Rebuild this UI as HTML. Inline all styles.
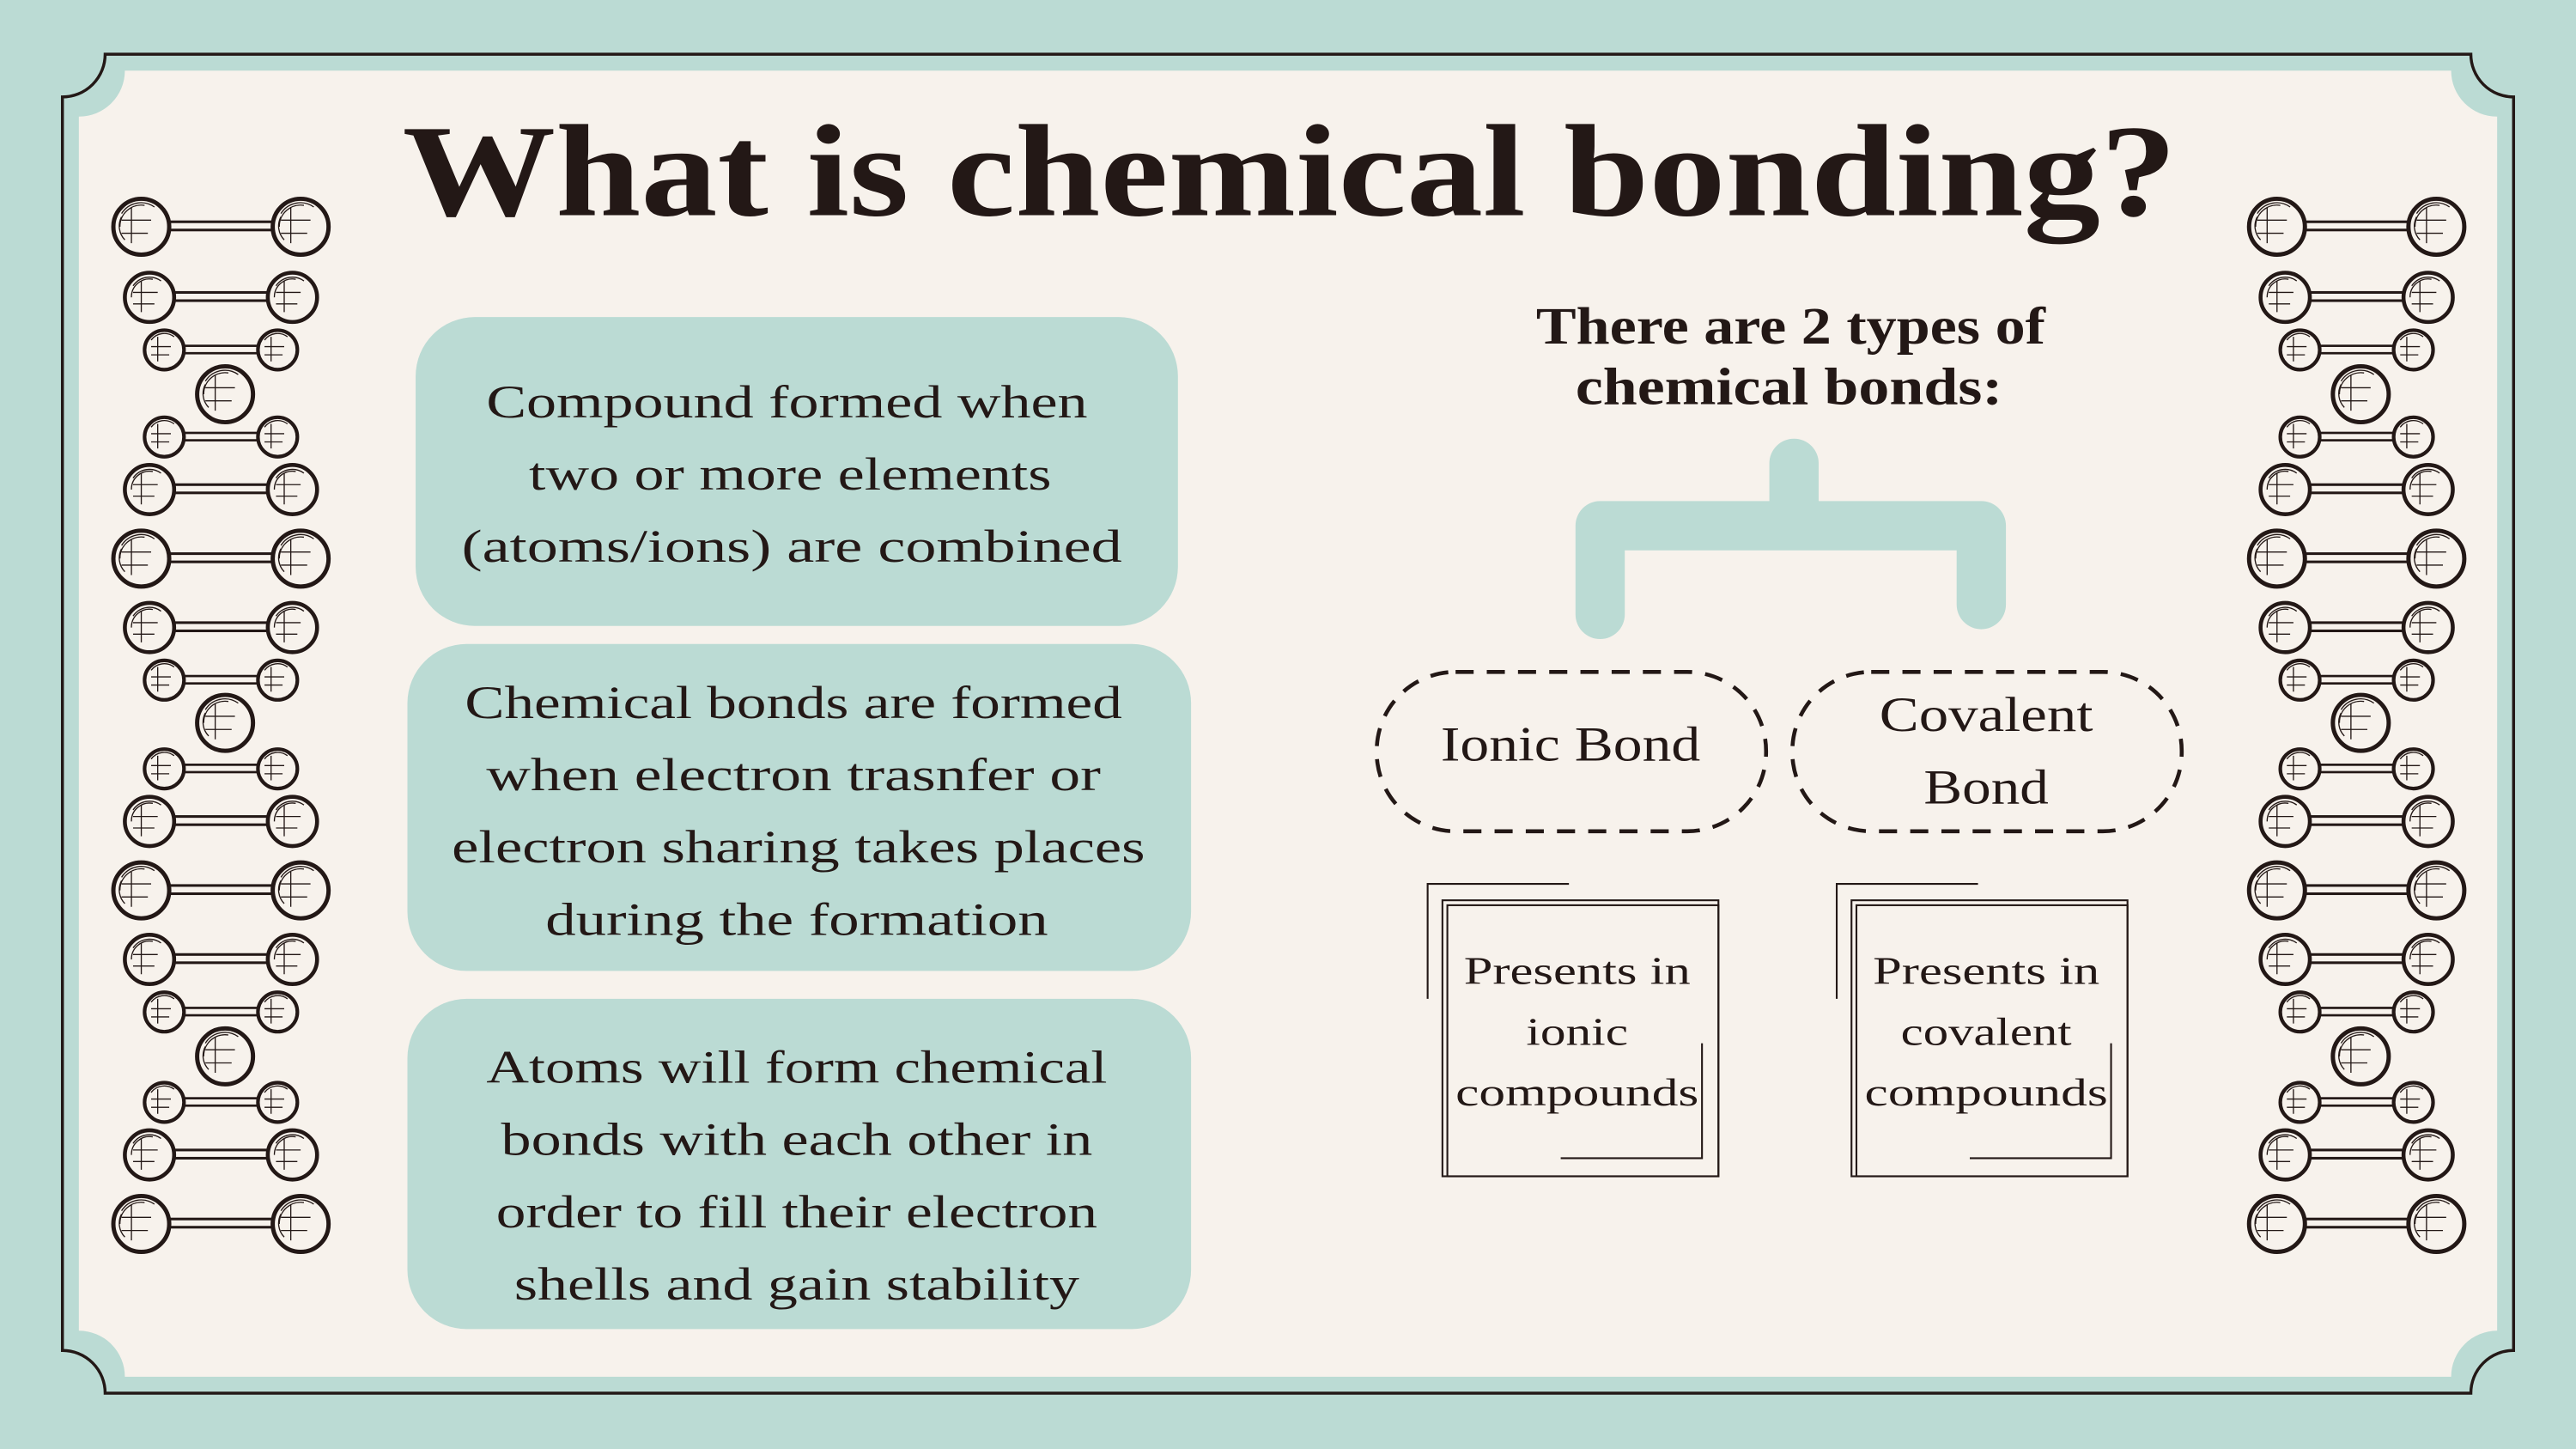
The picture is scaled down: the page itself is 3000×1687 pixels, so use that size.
<!DOCTYPE html>
<html><head><meta charset="utf-8"><style>
html,body{margin:0;padding:0;background:#bbdbd4;}
svg{display:block;}
text{font-family:"Liberation Serif",serif;fill:#231816;}
</style></head><body>
<svg width="3000" height="1687" viewBox="0 0 1568 882" preserveAspectRatio="none" xmlns="http://www.w3.org/2000/svg">
<defs>
<g id="ball17"><circle r="17" fill="#f7f2ec" stroke="#231816" stroke-width="2.6"/><path d="M-12,-8 A14,14 0 0 1 8,-12 M-13,0 A13,13 0 0 1 2,-13 M-10,8 A12,12 0 0 1 -12,-6 M-6,-12 L-6,10 M-12,-4 L6,-4 M-12,4 L4,4" fill="none" stroke="#231816" stroke-width="0.7"/></g>
<g id="ball15"><circle r="15" fill="#f7f2ec" stroke="#231816" stroke-width="2.4"/><path d="M-10,-7 A12,12 0 0 1 7,-10 M-11,0 A11,11 0 0 1 2,-11 M-5,-10 L-5,9 M-10,-3 L5,-3 M-10,4 L3,4" fill="none" stroke="#231816" stroke-width="0.7"/></g>
<g id="ball12"><circle r="12" fill="#f7f2ec" stroke="#231816" stroke-width="2.2"/><path d="M-8,-6 A10,10 0 0 1 6,-8 M-4,-8 L-4,7 M-8,-2 L4,-2 M-8,3 L3,3" fill="none" stroke="#231816" stroke-width="0.7"/></g>
<g id="W"><rect x="100" y="-3" width="70" height="5" fill="#f7f2ec" stroke="#231816" stroke-width="1.6"/><use href="#ball17" x="86"/><use href="#ball17" x="183"/></g>
<g id="M"><rect x="103" y="-3" width="62" height="5" fill="#f7f2ec" stroke="#231816" stroke-width="1.6"/><use href="#ball15" x="91"/><use href="#ball15" x="178"/></g>
<g id="N"><rect x="109" y="-2.5" width="52" height="4.5" fill="#f7f2ec" stroke="#231816" stroke-width="1.4"/><use href="#ball12" x="100"/><use href="#ball12" x="169"/></g>
<g id="S"><use href="#ball17" x="137"/></g>
<g id="col">
<use href="#W" y="138"/><use href="#M" y="181"/><use href="#N" y="213"/><use href="#S" y="240"/>
<use href="#N" y="266"/><use href="#M" y="298"/><use href="#W" y="340"/><use href="#M" y="382"/>
<use href="#N" y="414"/><use href="#S" y="440"/><use href="#N" y="468"/><use href="#M" y="500"/>
<use href="#W" y="542"/><use href="#M" y="584"/><use href="#N" y="616"/><use href="#S" y="643"/>
<use href="#N" y="671"/><use href="#M" y="703"/><use href="#W" y="745"/>
</g>
</defs>
<rect width="1568" height="882" fill="#bbdbd4"/>
<!-- cream inner -->
<path d="M76,43 H1492 A28,28 0 0 0 1520,71 V810 A28,28 0 0 0 1492,838 H76 A28,28 0 0 0 48,810 V71 A28,28 0 0 0 76,43 Z" fill="#f7f2ec"/>
<!-- outer line -->
<path d="M64,33 H1504 A26,26 0 0 0 1530,59 V822 A26,26 0 0 0 1504,848 H64 A26,26 0 0 0 38,822 V59 A26,26 0 0 0 64,33 Z" fill="none" stroke="#231816" stroke-width="1.8"/>
<use href="#col"/>
<use href="#col" x="1300"/>
<text x="785" y="131" text-anchor="middle" font-size="80" font-weight="bold" textLength="1080" lengthAdjust="spacingAndGlyphs">What is chemical bonding?</text>
<!-- left boxes -->
<rect x="253" y="193" width="464" height="188" rx="36" fill="#bbdbd4"/>
<rect x="248" y="392" width="477" height="199" rx="36" fill="#bbdbd4"/>
<rect x="248" y="608" width="477" height="201" rx="36" fill="#bbdbd4"/>
<g font-size="28" text-anchor="middle">
<text x="479" y="254" textLength="366" lengthAdjust="spacingAndGlyphs">Compound formed when</text>
<text x="481" y="298" textLength="318" lengthAdjust="spacingAndGlyphs">two or more elements</text>
<text x="482" y="342" textLength="402" lengthAdjust="spacingAndGlyphs">(atoms/ions) are combined</text>
<text x="483" y="437" textLength="400" lengthAdjust="spacingAndGlyphs">Chemical bonds are formed</text>
<text x="483" y="481" textLength="374" lengthAdjust="spacingAndGlyphs">when electron trasnfer or</text>
<text x="486" y="525" textLength="422" lengthAdjust="spacingAndGlyphs">electron sharing takes places</text>
<text x="485" y="569" textLength="306" lengthAdjust="spacingAndGlyphs">during the formation</text>
<text x="485" y="659" textLength="378" lengthAdjust="spacingAndGlyphs">Atoms will form chemical</text>
<text x="485" y="703" textLength="360" lengthAdjust="spacingAndGlyphs">bonds with each other in</text>
<text x="485" y="747" textLength="366" lengthAdjust="spacingAndGlyphs">order to fill their electron</text>
<text x="485" y="791" textLength="344" lengthAdjust="spacingAndGlyphs">shells and gain stability</text>
</g>
<g font-size="32" font-weight="bold" text-anchor="middle">
<text x="1090" y="209" textLength="310" lengthAdjust="spacingAndGlyphs">There are 2 types of</text>
<text x="1089" y="246" textLength="260" lengthAdjust="spacingAndGlyphs">chemical bonds:</text>
</g>
<!-- bracket -->
<path d="M1092,282 V318 M974,374 V320 H1206 V368" fill="none" stroke="#bbdbd4" stroke-width="30" stroke-linecap="round" stroke-linejoin="round"/>
<!-- pills -->
<rect x="838" y="409" width="237" height="97" rx="48" fill="none" stroke="#231816" stroke-width="2.4" stroke-dasharray="11,8"/>
<rect x="1091" y="409" width="237" height="97" rx="48" fill="none" stroke="#231816" stroke-width="2.4" stroke-dasharray="11,8"/>
<g font-size="30" text-anchor="middle">
<text x="956" y="463" textLength="158" lengthAdjust="spacingAndGlyphs">Ionic Bond</text>
<text x="1209" y="445" textLength="130" lengthAdjust="spacingAndGlyphs">Covalent</text>
<text x="1209" y="489" textLength="76" lengthAdjust="spacingAndGlyphs">Bond</text>
</g>
<!-- small boxes -->
<g fill="none" stroke="#231816" stroke-width="1.1">
<rect x="878" y="548" width="168" height="168"/><rect x="881" y="551" width="165" height="165"/>
<path d="M955,538 H869 V608 M1036,635 V705 H950"/>
<rect x="1127" y="548" width="168" height="168"/><rect x="1130" y="551" width="165" height="165"/>
<path d="M1204,538 H1118 V608 M1285,635 V705 H1199"/>
</g>
<g font-size="24" text-anchor="middle">
<text x="960" y="599" textLength="138" lengthAdjust="spacingAndGlyphs">Presents in</text>
<text x="960" y="636" textLength="62" lengthAdjust="spacingAndGlyphs">ionic</text>
<text x="960" y="673" textLength="148" lengthAdjust="spacingAndGlyphs">compounds</text>
<text x="1209" y="599" textLength="138" lengthAdjust="spacingAndGlyphs">Presents in</text>
<text x="1209" y="636" textLength="104" lengthAdjust="spacingAndGlyphs">covalent</text>
<text x="1209" y="673" textLength="148" lengthAdjust="spacingAndGlyphs">compounds</text>
</g>
</svg>
</body></html>
